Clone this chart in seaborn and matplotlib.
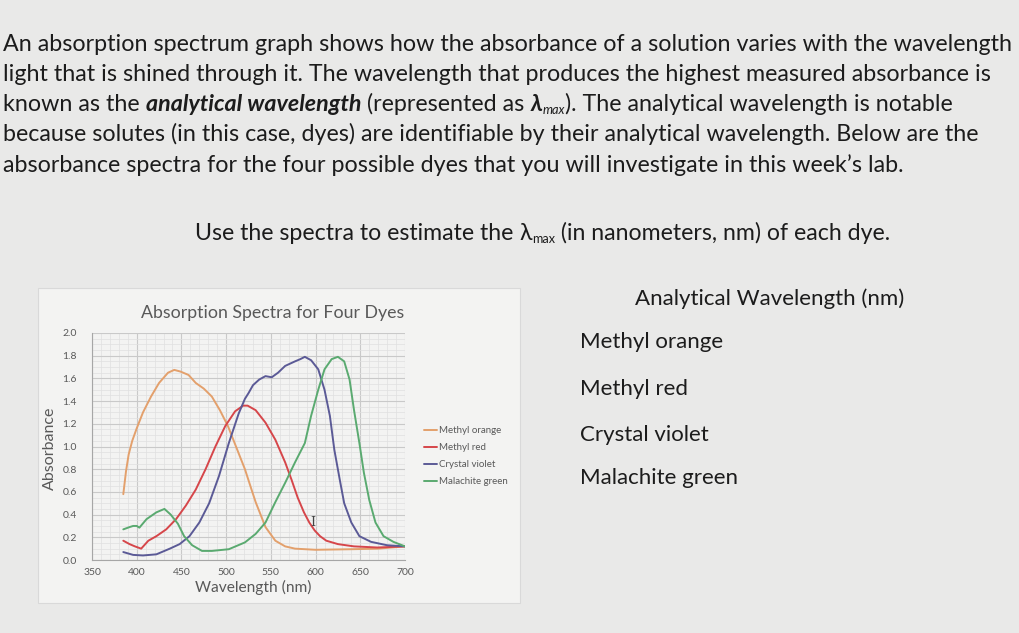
import pandas as pd
import seaborn as sns
from matplotlib import pyplot as plt
from matplotlib.patches import Rectangle
from matplotlib.ticker import MultipleLocator

# spectra (wavelength in nm, absorbance)
mo_wl = [385, 388, 391, 395, 400, 407, 416, 425, 435, 442, 449, 458, 466, 475, 484, 493,
         502, 511, 521, 528, 533, 544, 555, 566, 577, 600, 640, 670, 700]
mo_abs = [0.58, 0.78, 0.93, 1.05, 1.16, 1.30, 1.44, 1.56, 1.65, 1.675, 1.66, 1.63, 1.56, 1.51,
          1.44, 1.32, 1.18, 1.00, 0.80, 0.63, 0.51, 0.29, 0.17, 0.12, 0.10, 0.09, 0.095, 0.10,
          0.12]

mr_wl = [385, 392, 398, 405, 413, 422, 433, 444, 455, 466, 477, 488, 499, 510, 519, 524,
         533, 544, 555, 566, 573, 580, 587, 593, 599, 605, 612, 625, 643, 669, 700]
mr_abs = [0.17, 0.14, 0.12, 0.10, 0.17, 0.21, 0.27, 0.36, 0.48, 0.62, 0.80, 1.00, 1.18, 1.31,
          1.36, 1.36, 1.32, 1.21, 1.06, 0.86, 0.71, 0.55, 0.42, 0.33, 0.26, 0.21, 0.17, 0.14,
          0.12, 0.11, 0.12]

cv_wl = [385, 396, 407, 422, 437, 448, 459, 470, 481, 492, 503, 514, 521, 525, 530, 537,
         544, 551, 558, 566, 577, 583, 588, 595, 603, 610, 616, 621, 627, 632, 640, 649,
         662, 680, 700]
cv_abs = [0.07, 0.045, 0.04, 0.05, 0.10, 0.14, 0.21, 0.33, 0.50, 0.74, 1.03, 1.29, 1.42, 1.47,
          1.54, 1.59, 1.62, 1.61, 1.65, 1.71, 1.75, 1.77, 1.79, 1.76, 1.68, 1.50, 1.27, 0.97,
          0.71, 0.50, 0.33, 0.21, 0.16, 0.13, 0.12]

mg_wl = [385, 392, 396, 400, 403, 411, 422, 431, 438, 446, 453, 462, 473, 484, 503, 521,
         533, 544, 555, 566, 577, 588, 595, 603, 610, 618, 625, 632, 638, 643, 649, 654,
         660, 667, 676, 687, 700]
mg_abs = [0.27, 0.29, 0.30, 0.30, 0.285, 0.36, 0.42, 0.45, 0.40, 0.32, 0.21, 0.13, 0.08, 0.08,
          0.095, 0.155, 0.23, 0.33, 0.51, 0.68, 0.86, 1.03, 1.27, 1.50, 1.68, 1.77, 1.79, 1.75,
          1.59, 1.32, 1.03, 0.77, 0.53, 0.33, 0.21, 0.16, 0.12]

dyes = ["Methyl orange", "Methyl red", "Crystal violet", "Malachite green"]
colors = ["#e3a06c", "#d6464a", "#5b5a96", "#5aaa70"]
x_ticks = [350, 400, 450, 500, 550, 600, 650, 700]
y_ticks = [0.0, 0.2, 0.4, 0.6, 0.8, 1.0, 1.2, 1.4, 1.6, 1.8, 2.0]

paragraph = [
    [("An absorption spectrum graph shows how the absorbance of a solution varies with the wavelength", {})],
    [("light that is shined through it. The wavelength that produces the highest measured absorbance is", {})],
    [("known as the ", {}), ("analytical wavelength", {"weight": "bold", "style": "italic"}),
     (" (represented as ", {}), ("λ", {"weight": "bold", "style": "italic"}),
     ("max", {"style": "italic", "sub": True}), ("). The analytical wavelength is notable", {})],
    [("because solutes (in this case, dyes) are identifiable by their analytical wavelength. Below are the", {})],
    [("absorbance spectra for the four possible dyes that you will investigate in this week\u2019s lab.", {})],
]
paragraph_base = [51, 81, 111, 141, 172]
instruction = [("Use the spectra to estimate the ", {}), ("λ", {}), ("max", {"sub": True}),
               (" (in nanometers, nm) of each dye.", {})]
answer_header = "Analytical Wavelength (nm)"

W, H = 1020, 633
FONT = ["Lato", "DejaVu Sans"]
TEXT = "#1c1c1c"
CHART_TEXT = "#595959"

sns.set_style("white")
plt.rcParams["font.family"] = FONT

fig = plt.figure(figsize=(W / 100, H / 100), dpi=100, facecolor="#e9e9e8")
renderer = fig.canvas.get_renderer()


def fx(px):
    return px / W


def fy(py):
    return 1 - py / H


def advance(s, size, **kw):
    t = fig.text(0, 0, s + "|", fontsize=size, **kw)
    bar = fig.text(0, 0, "|", fontsize=size, **kw)
    w = t.get_window_extent(renderer).width - bar.get_window_extent(renderer).width
    t.remove()
    bar.remove()
    return w


def fit_size(s, target_px, **kw):
    return 10 * target_px / advance(s, 10, **kw)


def put_pieces(x_px, base_px, pieces, size, color):
    x = x_px
    for s, kw in pieces:
        kw = dict(kw)
        sub = kw.pop("sub", False)
        fs = size * 0.55 if sub else size
        off = 3 if sub else 0
        fig.text(fx(x), fy(base_px + off), s, fontsize=fs, color=color, va="baseline", **kw)
        x += advance(s, fs, **kw)


# paragraph
para_size = fit_size(paragraph[0][0][0], 1010)
for pieces, base in zip(paragraph, paragraph_base):
    put_pieces(3, base, pieces, para_size, TEXT)

put_pieces(195, 240, instruction, para_size * 0.99, TEXT)

# answer column
ans_size = fit_size("Methyl orange", 143)
fig.text(fx(635), fy(305), answer_header, fontsize=ans_size, color=TEXT, va="baseline")
for name, base in zip(dyes, [348, 395, 441, 484]):
    fig.text(fx(580), fy(base), name, fontsize=ans_size, color=TEXT, va="baseline")

# chart area
fig.patches.append(Rectangle((fx(38), fy(603)), fx(520) - fx(38), fy(288) - fy(603),
                             transform=fig.transFigure, facecolor="#f3f3f2",
                             edgecolor="#d9d9d9", linewidth=0.8, zorder=-10))

ax = fig.add_axes([fx(92), fy(560), fx(405) - fx(92), fy(333) - fy(560)])
ax.set_zorder(5)
ax.set_facecolor("#f3f3f2")

frames = []
for name, wl, ab in zip(dyes, [mo_wl, mr_wl, cv_wl, mg_wl], [mo_abs, mr_abs, cv_abs, mg_abs]):
    frames.append(pd.DataFrame({"wavelength": wl, "absorbance": ab, "dye": name}))
df = pd.concat(frames, ignore_index=True)

sns.lineplot(data=df, x="wavelength", y="absorbance", hue="dye", hue_order=dyes,
             palette=dict(zip(dyes, colors)), estimator=None, sort=False,
             linewidth=1.4, ax=ax)

ax.set_xlim(350, 700)
ax.set_ylim(0, 2.0)
ax.set_xticks(x_ticks)
ax.set_yticks(y_ticks)
ax.set_yticklabels([f"{v:.1f}" for v in y_ticks])
ax.xaxis.set_minor_locator(MultipleLocator(10))
ax.yaxis.set_minor_locator(MultipleLocator(0.05))
ax.grid(which="major", color="#c9c9c9", linewidth=0.8)
ax.grid(which="minor", color="#e0e0e0", linewidth=0.5)
ax.set_axisbelow(True)
for side in ["top", "right"]:
    ax.spines[side].set_visible(False)
for side in ["left", "bottom"]:
    ax.spines[side].set_color("#a6a6a6")
    ax.spines[side].set_linewidth(0.8)
ax.tick_params(which="major", length=3, width=0.6, color="#a6a6a6", labelsize=7.5,
               labelcolor=CHART_TEXT)
ax.tick_params(which="minor", length=0)
ax.tick_params(axis="x", pad=3)
ax.tick_params(axis="y", pad=8)
ax.set_xlabel("Wavelength (nm)", fontsize=11.2, color=CHART_TEXT)
ax.xaxis.set_label_coords(0.514, -0.088)
ax.set_ylabel("Absorbance", fontsize=11.5, color=CHART_TEXT)
ax.yaxis.set_label_coords(-0.112, 0.49)
ax.set_title("Absorption Spectra for Four Dyes", fontsize=12.8, color=CHART_TEXT,
             x=0.578, pad=11)

ax.legend(loc="upper left", bbox_to_anchor=(fx(424), fy(426)), bbox_transform=fig.transFigure,
          frameon=False, fontsize=7, handlelength=1.3, handletextpad=0.2, labelspacing=0.83,
          labelcolor=CHART_TEXT, borderaxespad=0, borderpad=0)

# text cursor visible in the photo
fig.text(fx(313), fy(523), "I", family="DejaVu Serif", fontsize=9, color="#444",
         ha="center", va="center", zorder=10)

fig.savefig("out.png", dpi=100, facecolor=fig.get_facecolor())
